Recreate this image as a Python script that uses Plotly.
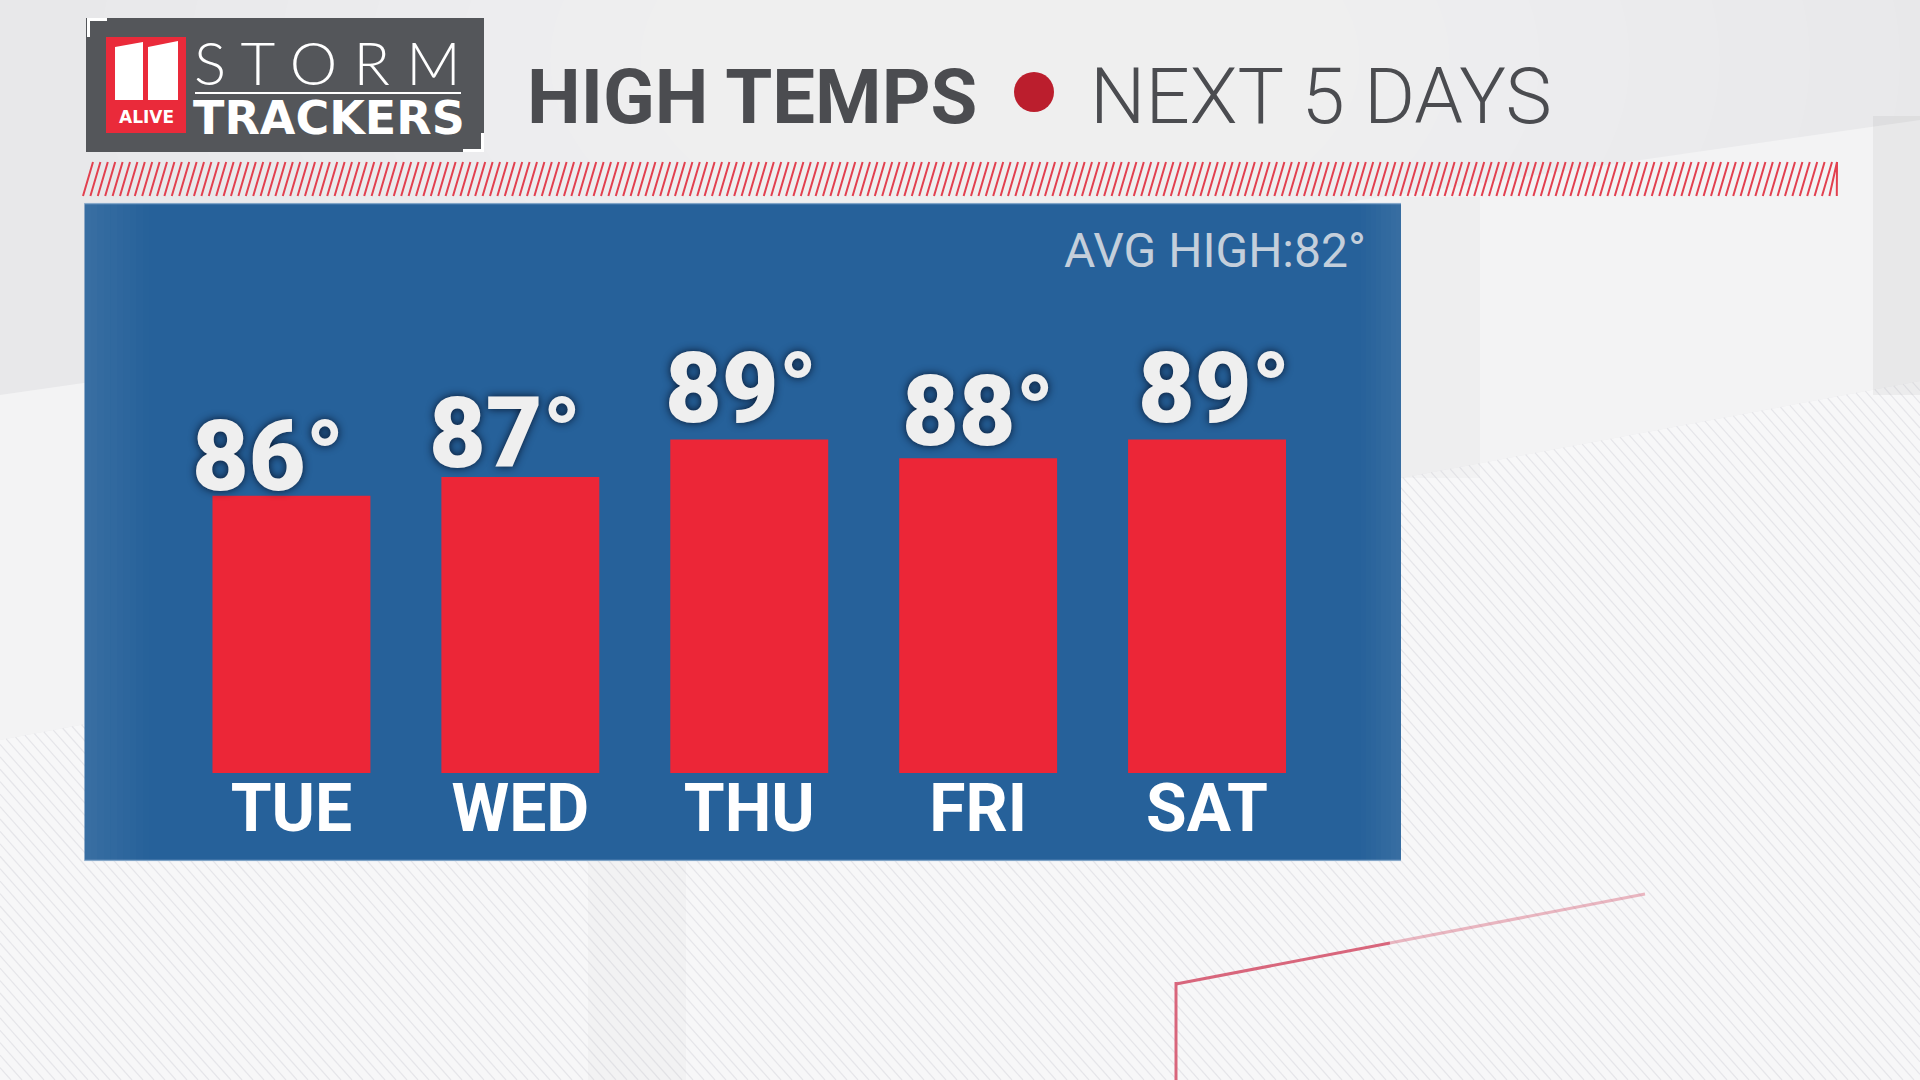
import numpy as np
import plotly.graph_objects as go

# ---------------- data ----------------
days = ["TUE", "WED", "THU", "FRI", "SAT"]
highs = [86, 87, 89, 88, 89]
avg_high = 82
title_bold = "HIGH TEMPS"
title_light = "NEXT 5 DAYS"

W, H = 1920, 1080


def fx(x):
    return x / W


def fy(y):
    return 1 - y / H


fig = go.Figure()

# bars (main axes)
fig.add_trace(go.Bar(
    x=days, y=highs, width=0.69,
    marker=dict(color="#ec2637", line=dict(width=0)),
    xaxis="x", yaxis="y", hoverinfo="x+y", showlegend=False,
))
# invisible trace so the label axes exist
fig.add_trace(go.Scatter(
    x=days, y=highs, mode="markers", marker=dict(opacity=0),
    xaxis="x2", yaxis="y2", hoverinfo="skip", showlegend=False,
))

shapes = []


def rect(x0, y0, x1, y1, color, layer="below"):
    shapes.append(dict(type="rect", xref="paper", yref="paper",
                       x0=fx(x0), x1=fx(x1), y0=fy(y1), y1=fy(y0),
                       fillcolor=color, line=dict(width=0), layer=layer))


def poly(pts, color, layer="below"):
    d = "M " + " L ".join(f"{fx(x):.5f},{fy(y):.5f}" for x, y in pts) + " Z"
    shapes.append(dict(type="path", xref="paper", yref="paper", path=d,
                       fillcolor=color, line=dict(width=0), layer=layer))


def line(x0, y0, x1, y1, color, w, layer="below"):
    shapes.append(dict(type="line", xref="paper", yref="paper",
                       x0=fx(x0), y0=fy(y0), x1=fx(x1), y1=fy(y1),
                       line=dict(color=color, width=w), layer=layer))


# ---------------- background ----------------
for i in range(8):
    r = 900 - i * 90
    shapes.append(dict(type="circle", xref="paper", yref="paper",
                       x0=fx(1000 - r), x1=fx(1000 + r), y0=fy(60 + r * 0.55), y1=fy(60 - r * 0.55),
                       fillcolor="rgba(255,255,255,0.06)", line=dict(width=0), layer="below"))
poly([(0, 395), (1920, 120), (1920, 381), (0, 740)], "#f3f3f4")
poly([(0, 740), (1920, 381), (1920, 1080), (0, 1080)], "#f7f7f8")
rect(1873, 116, 1920, 395, "rgba(0,0,0,0.045)")
rect(1401, 197, 1480, 478, "rgba(0,0,0,0.02)")
rect(588, 861, 686, 1080, "rgba(0,0,0,0.02)")

# faint hatch in the lower region
slope = 1.13
segs = []
for c in np.arange(-1080 / slope, 1920, 11.0):
    xa = (740 + slope * c) / (slope + 0.187)
    xb = c + 1080 / slope
    xs, xe = max(xa, 0), min(xb, 1920)
    if xs < xe:
        segs.append(f"M {fx(xs):.5f},{fy(slope*(xs-c)):.5f} L {fx(xe):.5f},{fy(slope*(xe-c)):.5f}")
shapes.append(dict(type="path", xref="paper", yref="paper", path=" ".join(segs),
                   line=dict(color="rgba(170,170,180,0.22)", width=1.2), layer="below"))

# pink decorative line
line(1176, 984, 1390, 943, "#d8667c", 3)
line(1390, 943, 1645, 894, "rgba(216,102,124,0.45)", 3)
line(1176, 982, 1176, 1080, "#d8667c", 3)

# red hatched band
rs = []
for x0 in np.arange(83, 1837, 7.4):
    x1 = min(x0 + 10, 1837)
    rs.append(f"M {fx(x0):.5f},{fy(196):.5f} L {fx(x1):.5f},{fy(162):.5f}")
shapes.append(dict(type="path", xref="paper", yref="paper", path=" ".join(rs),
                   line=dict(color="#e2404f", width=2), layer="below"))

# ---------------- blue panel ----------------
rect(84.5, 203, 1401, 861, "#26619a")
for i in range(10):
    a = 0.085 * (1 - i / 10)
    rect(84.5 + i * 6.5, 203, 84.5 + (i + 1) * 6.5, 861, f"rgba(255,255,255,{a:.3f})")
for i in range(8):
    a = 0.08 * (1 - i / 8)
    rect(1401 - (i + 1) * 5, 203, 1401 - i * 5, 861, f"rgba(255,255,255,{a:.3f})")
line(84.5, 203.5, 1401, 203.5, "rgba(190,210,230,0.6)", 1.5)
line(84.5, 860.5, 1401, 860.5, "rgba(190,210,230,0.6)", 1.5)

# ---------------- logo ----------------
rect(86, 18, 484, 152, "#54565a")
line(88, 19.5, 107, 19.5, "white", 3)
line(88.5, 18, 88.5, 37, "white", 3)
line(463, 150.5, 484, 150.5, "white", 3)
line(482.5, 133, 482.5, 152, "white", 3)
rect(106, 37, 186, 133, "#ea2a3a")
poly([(115, 47), (143, 42), (143, 100), (115, 100)], "white")
poly([(148, 47), (178, 41), (178, 100), (148, 100)], "white")
line(195, 93, 461, 93, "white", 2)

# title dot
shapes.append(dict(type="circle", xref="paper", yref="paper",
                   x0=fx(1014), x1=fx(1054), y0=fy(112), y1=fy(72),
                   fillcolor="#bb1e2d", line=dict(width=0), layer="above"))

# ---------------- annotations ----------------
ann = []
shadow = "0px 0px 8px rgba(6,18,40,0.95)"
for d, v in zip(days, highs):
    ann.append(dict(xref="x2", yref="y2", x=d, y=v, text=f"{v}°", showarrow=False,
                    xanchor="center", yanchor="bottom", yshift=-26,
                    font=dict(family="Roboto", size=98, weight=900, color="#efefef",
                              shadow=shadow)))

ann.append(dict(xref="paper", yref="paper", x=fx(1368), y=fy(250), text=f"AVG HIGH:{avg_high}°",
                showarrow=False, xanchor="right", yanchor="middle",
                font=dict(family="Roboto", size=48, color="#c4cfdb")))

ann.append(dict(xref="paper", yref="paper", x=fx(327), y=fy(62), text="S T O R M",
                showarrow=False, xanchor="center", yanchor="middle",
                font=dict(family="Lato", size=60, weight=300, color="white")))
ann.append(dict(xref="paper", yref="paper", x=fx(329), y=fy(118), text="TRACKERS",
                showarrow=False, xanchor="center", yanchor="middle",
                font=dict(family="DejaVu Sans", size=46, weight=700, color="white")))
ann.append(dict(xref="paper", yref="paper", x=fx(146), y=fy(117.5), text="ALIVE",
                showarrow=False, xanchor="center", yanchor="middle",
                font=dict(family="DejaVu Sans", size=17, weight=700, color="white")))

ann.append(dict(xref="paper", yref="paper", x=fx(525), y=fy(97), text=title_bold,
                showarrow=False, xanchor="left", yanchor="middle",
                font=dict(family="Roboto", size=76, weight=700, color="#4b4c50")))
ann.append(dict(xref="paper", yref="paper", x=fx(1088), y=fy(97), text=title_light,
                showarrow=False, xanchor="left", yanchor="middle",
                font=dict(family="Roboto", size=78, weight=300, color="#4b4c50")))

# ---------------- layout ----------------
fig.update_layout(
    width=W, height=H,
    margin=dict(l=0, r=0, t=0, b=0),
    paper_bgcolor="#e8e8ea",
    plot_bgcolor="rgba(0,0,0,0)",
    shapes=shapes,
    annotations=ann,
    xaxis=dict(domain=[fx(177), fx(1321.5)], range=[-0.5, 4.5], type="category",
               showgrid=False, zeroline=False, showline=False, ticks="",
               tickfont=dict(family="Roboto", size=66, weight=700, color="white"),
               ticklabelstandoff=-9, fixedrange=True),
    yaxis=dict(domain=[fy(773), fy(203)], range=[71.2, 71.2 + 570 / 18.73],
               visible=False, fixedrange=True),
    xaxis2=dict(domain=[fx(150.25), fx(1332.75)], range=[-0.5, 4.5], type="category",
                anchor="y2", visible=False, fixedrange=True),
    yaxis2=dict(domain=[fy(773), fy(203)], range=[86 - 283 / 22.7, 86 + 287 / 22.7],
                anchor="x2", visible=False, fixedrange=True),
)

fig.write_html("out.html", config={"displayModeBar": False},
               post_script="document.body.style.margin='0';")
